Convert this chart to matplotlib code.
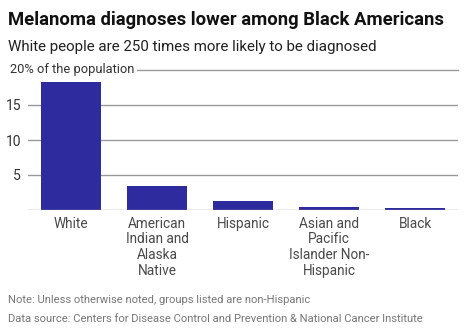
import matplotlib.pyplot as plt

plt.rcParams['font.family'] = ['Roboto', 'DejaVu Sans']

# Data
groups = ['White', 'American\nIndian and\nAlaska\nNative', 'Hispanic',
          'Asian and\nPacific\nIslander Non-\nHispanic', 'Black']
rates = [18.3, 3.5, 1.3, 0.45, 0.25]
yticks = [5, 10, 15]

bar_color = '#2e2b9f'
grid_color = '#9a9a9a'
text_color = '#333333'

fig = plt.figure(figsize=(4.67, 3.33), dpi=100)
ax = fig.add_axes([28 / 467, 1 - 210 / 333, 430 / 467, 140 / 333])

ax.bar(range(len(groups)), rates, width=0.7, color=bar_color, zorder=3)
ax.set_xlim(-0.5, 4.5)
ax.set_ylim(0, 20)

for y in yticks:
    ax.axhline(y, color=grid_color, lw=1, zorder=1)
ax.axhline(0, color=grid_color, lw=1, zorder=4)
# top gridline starts after the label
ax.axhline(20, xmin=(137 - 28) / 430, color=grid_color, lw=1, zorder=1, clip_on=False)

ax.set_yticks(yticks)
ax.set_yticklabels([str(v) for v in yticks], fontsize=10, color=text_color)
ax.set_xticks(range(len(groups)))
ax.set_xticklabels(groups, fontsize=9.8, color='#4a4a4a', linespacing=1.14, va='top')
ax.tick_params(length=0)
ax.tick_params(axis='y', pad=5)
ax.tick_params(axis='x', pad=5)
for s in ax.spines.values():
    s.set_visible(False)

fig.text(10 / 467, 1 - 70 / 333, '20% of the population', fontsize=9.3,
         color=text_color, va='center', ha='left')

fig.text(8 / 467, 1 - 20 / 333, 'Melanoma diagnoses lower among Black Americans',
         fontsize=13.35, fontweight='bold', color='#111111', va='center')
fig.text(8 / 467, 1 - 47 / 333, 'White people are 250 times more likely to be diagnosed',
         fontsize=10.9, color='#222222', va='center')

fig.text(8 / 467, 1 - 300 / 333, 'Note: Unless otherwise noted, groups listed are non-Hispanic',
         fontsize=8.1, color='#777777', va='center')
fig.text(8 / 467, 1 - 319 / 333,
         'Data source: Centers for Disease Control and Prevention & National Cancer Institute',
         fontsize=8.1, color='#777777', va='center')

fig.savefig('out.png', dpi=100)
